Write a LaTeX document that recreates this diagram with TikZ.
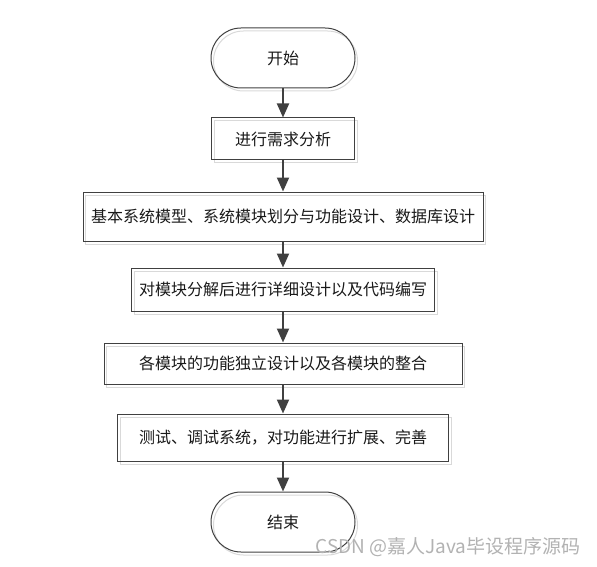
\documentclass[tikz,border=0pt]{standalone}
\usepackage{fontspec}
\newfontfamily\cjkfont{Noto Sans CJK SC}
\usetikzlibrary{arrows.meta}

\begin{document}
\begin{tikzpicture}[x=1pt, y=-1pt,
        procbox/.style={draw=black!75, line width=1pt, inner sep=0pt, minimum height=42pt,
            font=\cjkfont\fontsize{16}{18}\selectfont, text=black!90,
            preaction={draw=black!15, line width=1pt, transform canvas={xshift=2.5pt, yshift=-3pt}}},
        termbox/.style={procbox, rounded corners=30pt, minimum width=144pt, minimum height=60pt},
        flowarrow/.style={draw=black!75, line width=2pt, -{Triangle[width=12pt, length=14pt]}}]
        \useasboundingbox (0,0) rectangle (597,567);

        \node[termbox] (start) at (283,58) {开始};
        \node[procbox, minimum width=143pt] (req) at (283,139) {进行需求分析};
        \node[procbox, minimum width=400pt, minimum height=49pt] (model) at (283,216.5) {基本系统模型、系统模块划分与功能设计、数据库设计};
        \node[procbox, minimum width=303pt, minimum height=43pt] (detail) at (283,289.5) {对模块分解后进行详细设计以及代码编写};
        \node[procbox, minimum width=358pt, minimum height=41pt] (merge) at (283,363.5) {各模块的功能独立设计以及各模块的整合};
        \node[procbox, minimum width=331pt, minimum height=47pt] (test) at (283,437.5) {测试、调试系统，对功能进行扩展、完善};
        \node[termbox] (finish) at (283,522) {结束};

        \draw[flowarrow] (start) -- (req);
        \draw[flowarrow] (req) -- (model);
        \draw[flowarrow] (model) -- (detail);
        \draw[flowarrow] (detail) -- (merge);
        \draw[flowarrow] (merge) -- (test);
        \draw[flowarrow] (test) -- (finish);

        \node[text=black!30, font=\cjkfont\fontsize{19}{19}\selectfont] (mark) at (448,547) {CSDN @嘉人Java毕设程序源码};
    \end{tikzpicture}
\end{document}
